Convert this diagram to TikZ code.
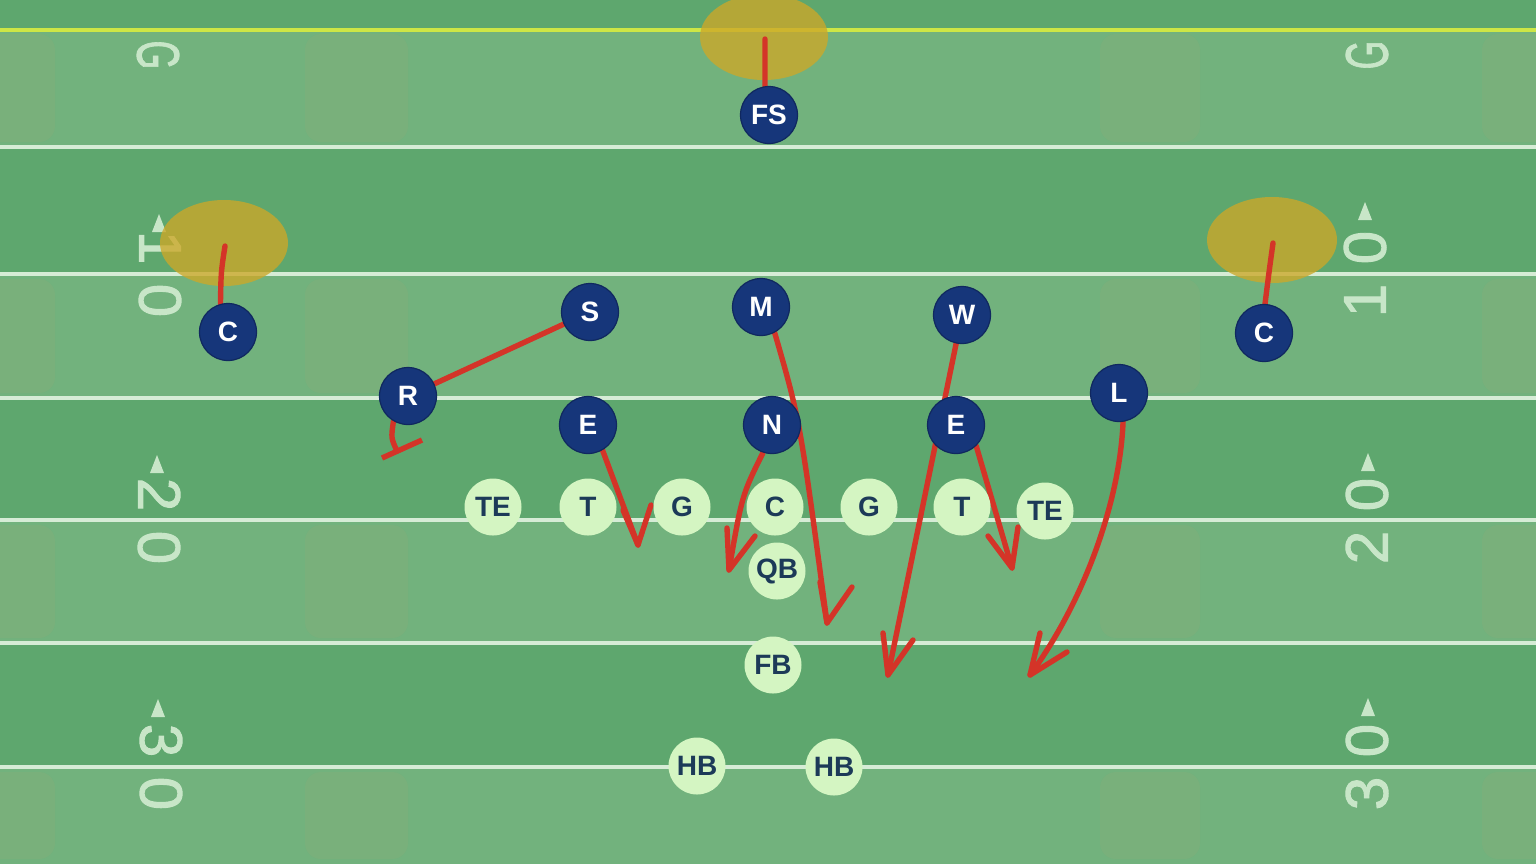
\documentclass[tikz,border=0pt]{standalone}
\usepackage{fontspec}
\setmainfont{Liberation Sans}
\newfontfamily\yardfont[FakeBold=1.6]{Liberation Sans}
\definecolor{fielddark}{RGB}{94,167,110}
\definecolor{fieldlight}{RGB}{114,178,125}
\definecolor{patch}{RGB}{121,176,123}
\definecolor{linewhite}{RGB}{214,236,214}
\definecolor{goalyellow}{RGB}{205,230,70}
\definecolor{numcol}{RGB}{200,230,200}
\definecolor{zone}{RGB}{205,168,40}
\definecolor{routered}{RGB}{212,52,40}
\definecolor{defnavy}{RGB}{22,54,122}
\definecolor{defedge}{RGB}{16,40,95}
\definecolor{offfill}{RGB}{212,245,194}
\definecolor{offtext}{RGB}{28,58,88}
\pgfdeclarelayer{field}
\pgfdeclarelayer{routes}
\pgfsetlayers{field,routes,main}
\begin{document}
\begin{tikzpicture}[x=0.5pt,y=-0.5pt,
  defense/.style={circle, fill=defnavy, draw=defedge, line width=0.6pt, minimum size=28.5pt, inner sep=0pt, text=white, font=\fontsize{14}{14}\selectfont\bfseries},
  offense/.style={circle, fill=offfill, minimum size=28.5pt, inner sep=0pt, text=offtext, font=\fontsize{14}{14}\selectfont\bfseries},
  yardline/.style={draw=linewhite, line width=2pt},
  yardnum/.style={text=numcol, font=\fontsize{30}{30}\yardfont, inner sep=0pt},
  yardtri/.style={fill=numcol},
  patchbox/.style={fill=patch, rounded corners=8pt},
  zonefill/.style={fill=zone, fill opacity=0.78},
  route/.style={draw=routered, line width=2.7pt, line cap=round, line join=round},
]
\useasboundingbox (0,0) rectangle (1536,864);

\begin{pgfonlayer}{field}
  % bands
  \fill[fielddark] (0,0) rectangle (1536,864);
  \foreach \ya/\yb in {29/147, 274/398, 520/643, 767/864}{
    \fill[fieldlight] (0,\ya) rectangle (1536,\yb);
    \foreach \xa/\xb in {-20/55, 305/408, 1100/1200, 1482/1556}{
      \fill[patchbox] (\xa,\ya+5) rectangle (\xb,\yb-5);
    }
  }
  % lines
  \foreach \yy in {147,274,398,520,643,767}{
    \draw[yardline] (0,\yy) -- (1536,\yy);
  }
  \draw[draw=goalyellow, line width=2pt] (0,29.5) -- (1536,29.5);
  % yard numbers left
  \node[yardnum, rotate=-90] (gl) at (158,55) {\scalebox{0.62}[1]{G}};
  \node[yardnum, rotate=-90] (n10l) at (160,274) {1\hspace{9.8pt}0};
  \node[yardnum, rotate=-90] (n20l) at (159,521) {2\hspace{9.8pt}0};
  \node[yardnum, rotate=-90] (n30l) at (161,767) {3\hspace{9.8pt}0};
  % yard numbers right
  \node[yardnum, rotate=90] (gr) at (1367,55) {\scalebox{0.62}[1]{G}};
  \node[yardnum, rotate=90] (n10r) at (1365,274) {1\hspace{9.8pt}0};
  \node[yardnum, rotate=90] (n20r) at (1367,521) {2\hspace{9.8pt}0};
  \node[yardnum, rotate=90] (n30r) at (1367,767) {3\hspace{9.8pt}0};
  % triangles
  \foreach \tx/\ty in {159/223, 157/464, 158/708, 1365/211, 1368/462, 1368/707}{
    \fill[yardtri] (\tx,\ty-9) -- (\tx+7,\ty+9) -- (\tx-7,\ty+9) -- cycle;
  }
  % zones
  \fill[zonefill] (764,37) ellipse [x radius=64, y radius=43];
  \fill[zonefill] (224,243) ellipse [x radius=64, y radius=43];
  \fill[zonefill] (1272,240) ellipse [x radius=65, y radius=43];
\end{pgfonlayer}

% defense
\node[defense] (FS) at (769,115) {FS};
\node[defense] (CL) at (228,332) {C};
\node[defense] (CR) at (1264,333) {C};
\node[defense] (S) at (590,312) {S};
\node[defense] (M) at (761,307) {M};
\node[defense] (W) at (962,315) {W};
\node[defense] (R) at (408,396) {R};
\node[defense] (L) at (1119,393) {L};
\node[defense] (E1) at (588,425) {E};
\node[defense] (N) at (772,425) {N};
\node[defense] (E2) at (956,425) {E};
% offense
\node[offense] (TEl) at (493,507) {TE};
\node[offense] (Tl) at (588,507) {T};
\node[offense] (Gl) at (682,507) {G};
\node[offense] (Co) at (775,507) {C};
\node[offense] (Gr) at (869,507) {G};
\node[offense] (Tr) at (962,507) {T};
\node[offense] (TEr) at (1045,511) {TE};
\node[offense] (QB) at (777,571) {QB};
\node[offense] (FB) at (773,665) {FB};
\node[offense] (HBl) at (697,766) {HB};
\node[offense] (HBr) at (834,767) {HB};

\begin{pgfonlayer}{routes}
  % deep zones
  \coordinate (fsEnd) at (765,39);
  \draw[route] (FS.98) -- (fsEnd);
  \coordinate (clEnd) at (225,246);
  \draw[route] (CL.105) .. controls (221,272) .. (clEnd);
  \coordinate (crEnd) at (1273,243);
  \draw[route] (CR.88) .. controls (1269,272) .. (crEnd);
  % S to R
  \draw[route] (S) -- (R);
  % R block
  \coordinate (rb) at (397,451);
  \coordinate (rbA) at (382,458);
  \coordinate (rbB) at (422,440);
  \draw[route] (R.-120) .. controls (391,438) .. (rb);
  \draw[route, line cap=butt] (rbA) -- (rbB);
  % E left
  \coordinate (tE1) at (638,545);
  \coordinate (wE1a) at (623,510);
  \coordinate (wE1b) at (651,505);
  \draw[route] (E1.-60) -- (tE1);
  \draw[route] (wE1a) -- (tE1) -- (wE1b);
  % N
  \coordinate (tN) at (729,570);
  \coordinate (wNa) at (727,528);
  \coordinate (wNb) at (755,536);
  \draw[route] (N.-108) .. controls (742,495) .. (tN);
  \draw[route] (wNa) -- (tN) -- (wNb);
  % M
  \coordinate (tM) at (827,623);
  \coordinate (wMa) at (820,582);
  \coordinate (wMb) at (852,587);
  \draw[route] (M.-62) .. controls (800,420) .. (tM);
  \draw[route] (wMa) -- (tM) -- (wMb);
  % W
  \coordinate (tW) at (888,675);
  \coordinate (wWa) at (883,633);
  \coordinate (wWb) at (913,640);
  \draw[route] (W) -- (tW);
  \draw[route] (wWa) -- (tW) -- (wWb);
  % E right
  \coordinate (tE2) at (1012,568);
  \coordinate (wE2a) at (988,536);
  \coordinate (wE2b) at (1018,527);
  \draw[route] (E2.-46) -- (tE2);
  \draw[route] (wE2a) -- (tE2) -- (wE2b);
  % L
  \coordinate (tL) at (1030,675);
  \coordinate (wLa) at (1040,633);
  \coordinate (wLb) at (1067,652);
  \draw[route] (L.-82) .. controls (1120,500) and (1085,600) .. (tL);
  \draw[route] (wLa) -- (tL) -- (wLb);
\end{pgfonlayer}
\end{tikzpicture}
\end{document}
